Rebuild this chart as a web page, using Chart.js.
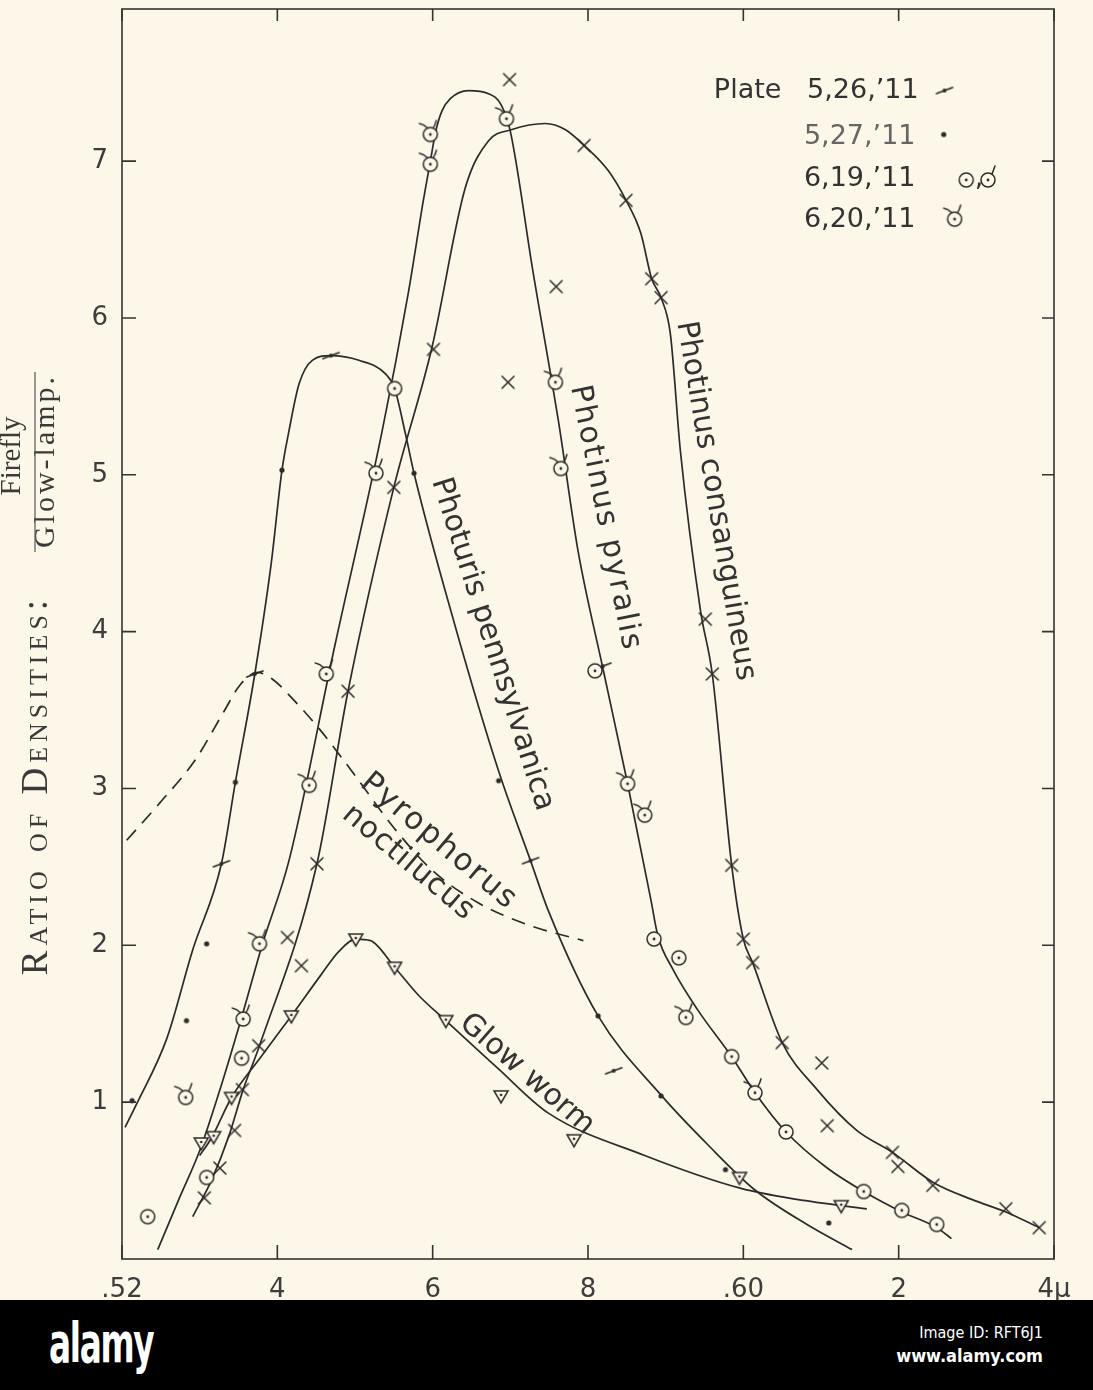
<!DOCTYPE html>
<html>
<head>
<meta charset="utf-8">
<title>Ratio of Densities</title>
<script src="https://cdn.jsdelivr.net/npm/chart.js@4.4.1/dist/chart.umd.min.js"></script>
<style>
  html, body { margin: 0; padding: 0; background: #fcf7e8; }
  #grafico { display: block; }
  #rodape { width: 1093px; height: 90px; background: #000; position: relative; overflow: hidden;
            font-family: 'DejaVu Sans Condensed', 'DejaVu Sans', sans-serif; color: #fff; }
  #logo { position: absolute; left: 49px; top: 15px; font-size: 56px; line-height: 1; font-weight: bold;
          letter-spacing: -2px; transform: scaleX(0.65); transform-origin: left top; }
  #imgid { position: absolute; right: 50px; top: 25px; font-size: 16px; line-height: 1; }
  #site { position: absolute; right: 50px; top: 47px; font-size: 18px; line-height: 1; font-weight: bold; }
</style>
</head>
<body>
<canvas id="grafico" width="1093" height="1300"></canvas>
<div id="rodape"><div id="logo">alamy</div><div id="imgid">Image ID: RFT6J1</div><div id="site">www.alamy.com</div></div>
<script>
// eixos
var xTickValues = [0.52, 0.54, 0.56, 0.58, 0.60, 0.62, 0.64];
var xTickLabels = ['.52', '4', '6', '8', '.60', '2', '4µ'];
var yTickValues = [1, 2, 3, 4, 5, 6, 7];

// Photinus consanguineus (x)
var consCurve = [[0.5291,0.27],[0.5315,0.50],[0.5338,0.79],[0.5356,1.08],[0.5377,1.36],[0.5451,2.52],[0.5491,3.62],
  [0.5550,4.92],[0.5599,5.81],[0.5642,6.83],[0.5672,7.13],[0.5701,7.20],[0.5745,7.24],[0.5771,7.20],[0.5795,7.10],
  [0.5826,6.94],[0.5849,6.75],[0.5868,6.54],[0.5882,6.25],[0.5894,6.13],[0.5906,5.90],[0.5919,5.15],[0.5945,4.13],
  [0.5960,3.73],[0.5985,2.51],[0.6000,2.04],[0.6012,1.89],[0.6050,1.38],[0.6095,1.08],[0.6146,0.82],[0.6192,0.68],
  [0.6244,0.49],[0.6294,0.38],[0.6338,0.30],[0.6381,0.20]];
var consCross = [[0.5306,0.39],[0.5326,0.58],[0.5345,0.82],[0.5355,1.08],[0.5376,1.36],[0.5413,2.05],[0.5431,1.87],
  [0.5451,2.52],[0.5491,3.62],[0.5550,4.92],[0.5601,5.80],[0.5699,7.52],[0.5697,5.59],[0.5759,6.20],[0.5795,7.10],
  [0.5849,6.75],[0.5882,6.25],[0.5894,6.13],[0.5951,4.08],[0.5960,3.73],[0.5985,2.51],[0.6000,2.04],[0.6012,1.89],
  [0.6050,1.38],[0.6101,1.25],[0.6108,0.85],[0.6192,0.68],[0.6199,0.59],[0.6244,0.47],[0.6338,0.32],[0.6381,0.20]];

// Photinus pyralis (circulos)
var pyrCurve = [[0.5246,0.06],[0.5274,0.39],[0.5300,0.69],[0.5328,1.11],[0.5354,1.54],[0.5381,2.01],[0.5415,2.54],
  [0.5474,3.91],[0.5535,5.28],[0.5569,6.17],[0.5588,6.75],[0.5597,7.00],[0.5604,7.19],[0.5612,7.32],[0.5623,7.40],
  [0.5646,7.45],[0.5672,7.43],[0.5688,7.36],[0.5700,7.19],[0.5729,6.30],[0.5762,5.34],[0.5787,4.52],[0.5819,3.77],
  [0.5851,3.03],[0.5881,2.29],[0.5890,2.06],[0.5909,1.85],[0.5941,1.59],[0.5985,1.29],[0.6015,1.06],[0.6055,0.81],
  [0.6108,0.58],[0.6155,0.43],[0.6204,0.30],[0.6249,0.20],[0.6268,0.13]];
var pyrCircle = [[0.5233,0.27],[0.5309,0.52],[0.5354,1.28],[0.5551,5.55],[0.5809,3.75],[0.5885,2.04],[0.5917,1.92],
  [0.5985,1.29],[0.6055,0.81],[0.6155,0.43],[0.6204,0.31],[0.6249,0.22]];
var pyrHorn = [[0.5282,1.03],[0.5356,1.53],[0.5377,2.01],[0.5441,3.02],[0.5463,3.73],[0.5527,5.01],[0.5597,6.98],
  [0.5597,7.17],[0.5695,7.27],[0.5758,5.59],[0.5765,5.04],[0.5851,3.03],[0.5873,2.83],[0.5926,1.54],[0.6015,1.06]];

// Photuris pennsylvanica (pontos e tracos)
var photCurve = [[0.5204,0.84],[0.5219,0.99],[0.5258,1.41],[0.5291,1.97],[0.5328,2.52],[0.5346,3.04],[0.5371,3.73],
  [0.5392,4.43],[0.5406,5.03],[0.5415,5.28],[0.5428,5.58],[0.5445,5.73],[0.5469,5.76],[0.5505,5.73],[0.5540,5.64],
  [0.5551,5.55],[0.5565,5.26],[0.5576,5.01],[0.5627,4.07],[0.5685,3.11],[0.5726,2.54],[0.5749,2.22],[0.5813,1.55],
  [0.5895,1.04],[0.5954,0.73],[0.6015,0.44],[0.6082,0.22],[0.6140,0.06]];
var photDot = [[0.5213,1.01],[0.5283,1.52],[0.5309,2.01],[0.5346,3.04],[0.5406,5.03],[0.5576,5.01],[0.5685,3.05],
  [0.5813,1.55],[0.5894,1.04],[0.5977,0.57],[0.6110,0.23]];
var photTick = [[0.5328,2.52],[0.5371,3.73],[0.5469,5.76],[0.5726,2.54],[0.5833,1.20],[0.5819,3.78]];

// Pyrophorus noctilucus (tracejado)
var pyroCurve = [[0.5206,2.67],[0.5249,2.91],[0.5294,3.18],[0.5330,3.48],[0.5352,3.66],[0.5374,3.74],[0.5393,3.70],
  [0.5420,3.57],[0.5454,3.38],[0.5496,3.11],[0.5550,2.75],[0.5599,2.48],[0.5659,2.27],[0.5723,2.13],[0.5794,2.03]];

// Glow worm (triangulos)
var glowCurve = [[0.5300,0.66],[0.5315,0.77],[0.5341,1.03],[0.5379,1.29],[0.5418,1.55],[0.5456,1.81],[0.5479,1.96],
  [0.5501,2.04],[0.5520,2.03],[0.5551,1.86],[0.5582,1.68],[0.5617,1.52],[0.5683,1.22],[0.5749,0.93],[0.5873,0.66],
  [0.5997,0.45],[0.6069,0.38],[0.6159,0.32]];
var glowTri = [[0.5302,0.74],[0.5318,0.78],[0.5341,1.03],[0.5418,1.55],[0.5501,2.04],[0.5551,1.86],[0.5617,1.52],
  [0.5688,1.04],[0.5782,0.76],[0.5995,0.52],[0.6126,0.34]];

var ink = '#2b2b2b';
var paper = '#fcf7e8';

function sprite(size, draw) {
  var c = document.createElement('canvas');
  c.width = size; c.height = size;
  var g = c.getContext('2d');
  g.strokeStyle = ink; g.fillStyle = ink; g.lineWidth = 1.5; g.lineCap = 'round';
  draw(g, size / 2);
  return c;
}
function circulo(g, m) {
  g.beginPath(); g.arc(m, m, 7, 0, Math.PI * 2);
  g.fillStyle = paper; g.fill(); g.stroke();
  g.fillStyle = ink; g.beginPath(); g.arc(m, m, 1.4, 0, Math.PI * 2); g.fill();
}
var marcaCruz = sprite(16, function (g, m) {
  g.beginPath(); g.moveTo(m - 6, m - 6); g.lineTo(m + 6, m + 6); g.moveTo(m + 6, m - 6); g.lineTo(m - 6, m + 6); g.stroke();
});
var marcaPonto = sprite(8, function (g, m) { g.beginPath(); g.arc(m, m, 2.6, 0, Math.PI * 2); g.fill(); });
var marcaTraco = sprite(20, function (g, m) {
  g.lineWidth = 1.8; g.beginPath(); g.moveTo(m - 8, m + 3); g.lineTo(m + 8, m - 3); g.stroke();
  g.beginPath(); g.arc(m, m, 2, 0, Math.PI * 2); g.fill();
});
var marcaCirculo = sprite(20, circulo);
var marcaChifre = sprite(32, function (g, m) {
  circulo(g, m);
  g.beginPath();
  g.moveTo(m - 3, m - 6.5); g.quadraticCurveTo(m - 6, m - 10, m - 11, m - 11);
  g.moveTo(m + 3, m - 6.5); g.quadraticCurveTo(m + 5, m - 10, m + 6, m - 14);
  g.stroke();
});
var marcaHaste = sprite(32, function (g, m) {
  circulo(g, m);
  g.beginPath(); g.moveTo(m + 4, m - 6); g.lineTo(m + 7, m - 14); g.stroke();
});
var marcaTriangulo = sprite(20, function (g, m) {
  g.beginPath(); g.moveTo(m - 7, m - 5); g.lineTo(m + 7, m - 5); g.lineTo(m, m + 7); g.closePath();
  g.fillStyle = paper; g.fill(); g.stroke();
  g.fillStyle = ink; g.beginPath(); g.arc(m, m - 1, 1.3, 0, Math.PI * 2); g.fill();
});

function pontos(lista) { return lista.map(function (p) { return { x: p[0], y: p[1] }; }); }
function curva(lista, tracejado) {
  return { data: pontos(lista), showLine: true, borderColor: ink, borderWidth: 1.7, pointRadius: 0,
           cubicInterpolationMode: 'monotone', borderDash: tracejado ? [14, 9] : [], order: 2 };
}
function marcas(lista, estilo) {
  return { data: pontos(lista), showLine: false, pointStyle: estilo, pointRadius: 8, order: 1 };
}

// rotulos das curvas
var speciesLabels = [
  { text: 'Photinus consanguineus', x: 0.5915, y: 5.97, angle: 80.4, size: 30, spacing: 0 },
  { text: 'Photinus pyralis', x: 0.5778, y: 5.56, angle: 78.7, size: 30, spacing: 2 },
  { text: 'Photuris pennsylvanica', x: 0.5599, y: 4.96, angle: 72.3, size: 30, spacing: 0 },
  { text: 'Pyrophorus', x: 0.5505, y: 3.02, angle: 40, size: 31, spacing: 2 },
  { text: 'noctilucus', x: 0.5482, y: 2.82, angle: 40, size: 30, spacing: 1 },
  { text: 'Glow worm', x: 0.5633, y: 1.49, angle: 41, size: 30, spacing: 0 }
];

var rotulos = {
  id: 'rotulos',
  afterDraw: function (chart) {
    var ctx = chart.ctx, a = chart.chartArea, sx = chart.scales.x, sy = chart.scales.y;
    ctx.save();
    // moldura e tracos para dentro
    ctx.strokeStyle = '#333'; ctx.lineWidth = 1.6;
    ctx.strokeRect(a.left, a.top, a.right - a.left, a.bottom - a.top);
    ctx.beginPath();
    xTickValues.forEach(function (v) {
      var px = sx.getPixelForValue(v);
      ctx.moveTo(px, a.bottom); ctx.lineTo(px, a.bottom - 14);
      ctx.moveTo(px, a.top); ctx.lineTo(px, a.top + 12);
    });
    yTickValues.forEach(function (v) {
      var py = sy.getPixelForValue(v);
      ctx.moveTo(a.left, py); ctx.lineTo(a.left + 14, py);
      ctx.moveTo(a.right, py); ctx.lineTo(a.right - 12, py);
    });
    ctx.stroke();

    ctx.fillStyle = '#333';
    ctx.textAlign = 'left'; ctx.textBaseline = 'alphabetic';
    speciesLabels.forEach(function (l) {
      ctx.save();
      ctx.font = l.size + "px 'DejaVu Sans'";
      ctx.letterSpacing = l.spacing + 'px';
      ctx.translate(sx.getPixelForValue(l.x), sy.getPixelForValue(l.y));
      ctx.rotate(l.angle * Math.PI / 180);
      ctx.fillText(l.text, 0, 0);
      ctx.restore();
    });

    // legenda das placas
    ctx.font = "27px 'DejaVu Sans'";
    ctx.textAlign = 'right';
    ctx.fillText('Plate', sx.getPixelForValue(0.6049), sy.getPixelForValue(7.40));
    ctx.textAlign = 'left';
    ctx.fillText('5,26,’11', sx.getPixelForValue(0.6082), sy.getPixelForValue(7.40));
    ctx.fillStyle = '#666';
    ctx.fillText('5,27,’11', sx.getPixelForValue(0.6078), sy.getPixelForValue(7.11));
    ctx.fillStyle = '#333';
    ctx.fillText('6,19,’11', sx.getPixelForValue(0.6078), sy.getPixelForValue(6.84));
    ctx.fillText('6,20,’11', sx.getPixelForValue(0.6078), sy.getPixelForValue(6.58));
    ctx.fillText(',', sx.getPixelForValue(0.6298), sy.getPixelForValue(6.84));
    [[marcaTraco, 0.6259, 7.45], [marcaPonto, 0.6258, 7.17], [marcaCirculo, 0.6287, 6.88],
     [marcaHaste, 0.6315, 6.88], [marcaChifre, 0.6272, 6.63]].forEach(function (m) {
      ctx.drawImage(m[0], sx.getPixelForValue(m[1]) - m[0].width / 2, sy.getPixelForValue(m[2]) - m[0].height / 2);
    });

    // titulo do eixo y
    ctx.fillStyle = '#3a3a3a';
    ctx.save();
    ctx.translate(47, 785); ctx.rotate(-Math.PI / 2);
    ctx.font = "small-caps 37px 'Liberation Serif'";
    ctx.fontVariantCaps = 'small-caps';
    ctx.letterSpacing = '5px';
    ctx.textAlign = 'center';
    ctx.fillText('Ratio of Densities:', 0, 0);
    ctx.restore();
    ctx.save();
    ctx.translate(20, 456); ctx.rotate(-Math.PI / 2);
    ctx.font = "29px 'Liberation Serif'"; ctx.textAlign = 'center';
    ctx.fillText('Firefly', 0, 0);
    ctx.restore();
    ctx.save();
    ctx.translate(54, 461); ctx.rotate(-Math.PI / 2);
    ctx.font = "30px 'Liberation Serif'"; ctx.textAlign = 'center';
    ctx.letterSpacing = '3px';
    ctx.fillText('Glow-lamp.', 0, 0);
    ctx.restore();
    ctx.strokeStyle = '#555'; ctx.lineWidth = 1.2;
    ctx.beginPath(); ctx.moveTo(35, 372); ctx.lineTo(35, 552); ctx.stroke();
    ctx.restore();
  }
};

var ctx = document.getElementById('grafico').getContext('2d');
var myChart = new Chart(ctx, {
  type: 'scatter',
  data: {
    datasets: [
      curva(consCurve), curva(pyrCurve), curva(photCurve), curva(pyroCurve, true), curva(glowCurve),
      marcas(consCross, marcaCruz), marcas(pyrCircle, marcaCirculo), marcas(pyrHorn, marcaChifre),
      marcas(photDot, marcaPonto), marcas(photTick, marcaTraco), marcas(glowTri, marcaTriangulo)
    ]
  },
  options: {
    responsive: false,
    devicePixelRatio: 1,
    animation: false,
    layout: { padding: { top: 3, right: 39, left: 0, bottom: 0 } },
    plugins: { legend: { display: false }, tooltip: { enabled: false } },
    scales: {
      x: {
        type: 'linear', min: 0.52, max: 0.64,
        afterFit: function (s) { s.height = 41; },
        grid: { display: false, drawTicks: false },
        border: { display: false },
        ticks: {
          stepSize: 0.02, padding: 16, autoSkip: false, maxRotation: 0, color: '#3d3d3d',
          font: { family: 'DejaVu Sans', size: 26 },
          callback: function (v) {
            var i = xTickValues.findIndex(function (t) { return Math.abs(t - v) < 1e-6; });
            return i >= 0 ? xTickLabels[i] : null;
          }
        }
      },
      y: {
        min: 0, max: 7.97,
        afterFit: function (s) { s.width = 122; s.paddingTop = 0; s.paddingBottom = 0; },
        grid: { display: false, drawTicks: false },
        border: { display: false },
        ticks: {
          stepSize: 1, padding: 14, color: '#3d3d3d',
          font: { family: 'DejaVu Sans', size: 26 },
          callback: function (v) { return yTickValues.indexOf(v) >= 0 ? String(v) : null; }
        }
      }
    }
  },
  plugins: [rotulos]
});
</script>
</body>
</html>
